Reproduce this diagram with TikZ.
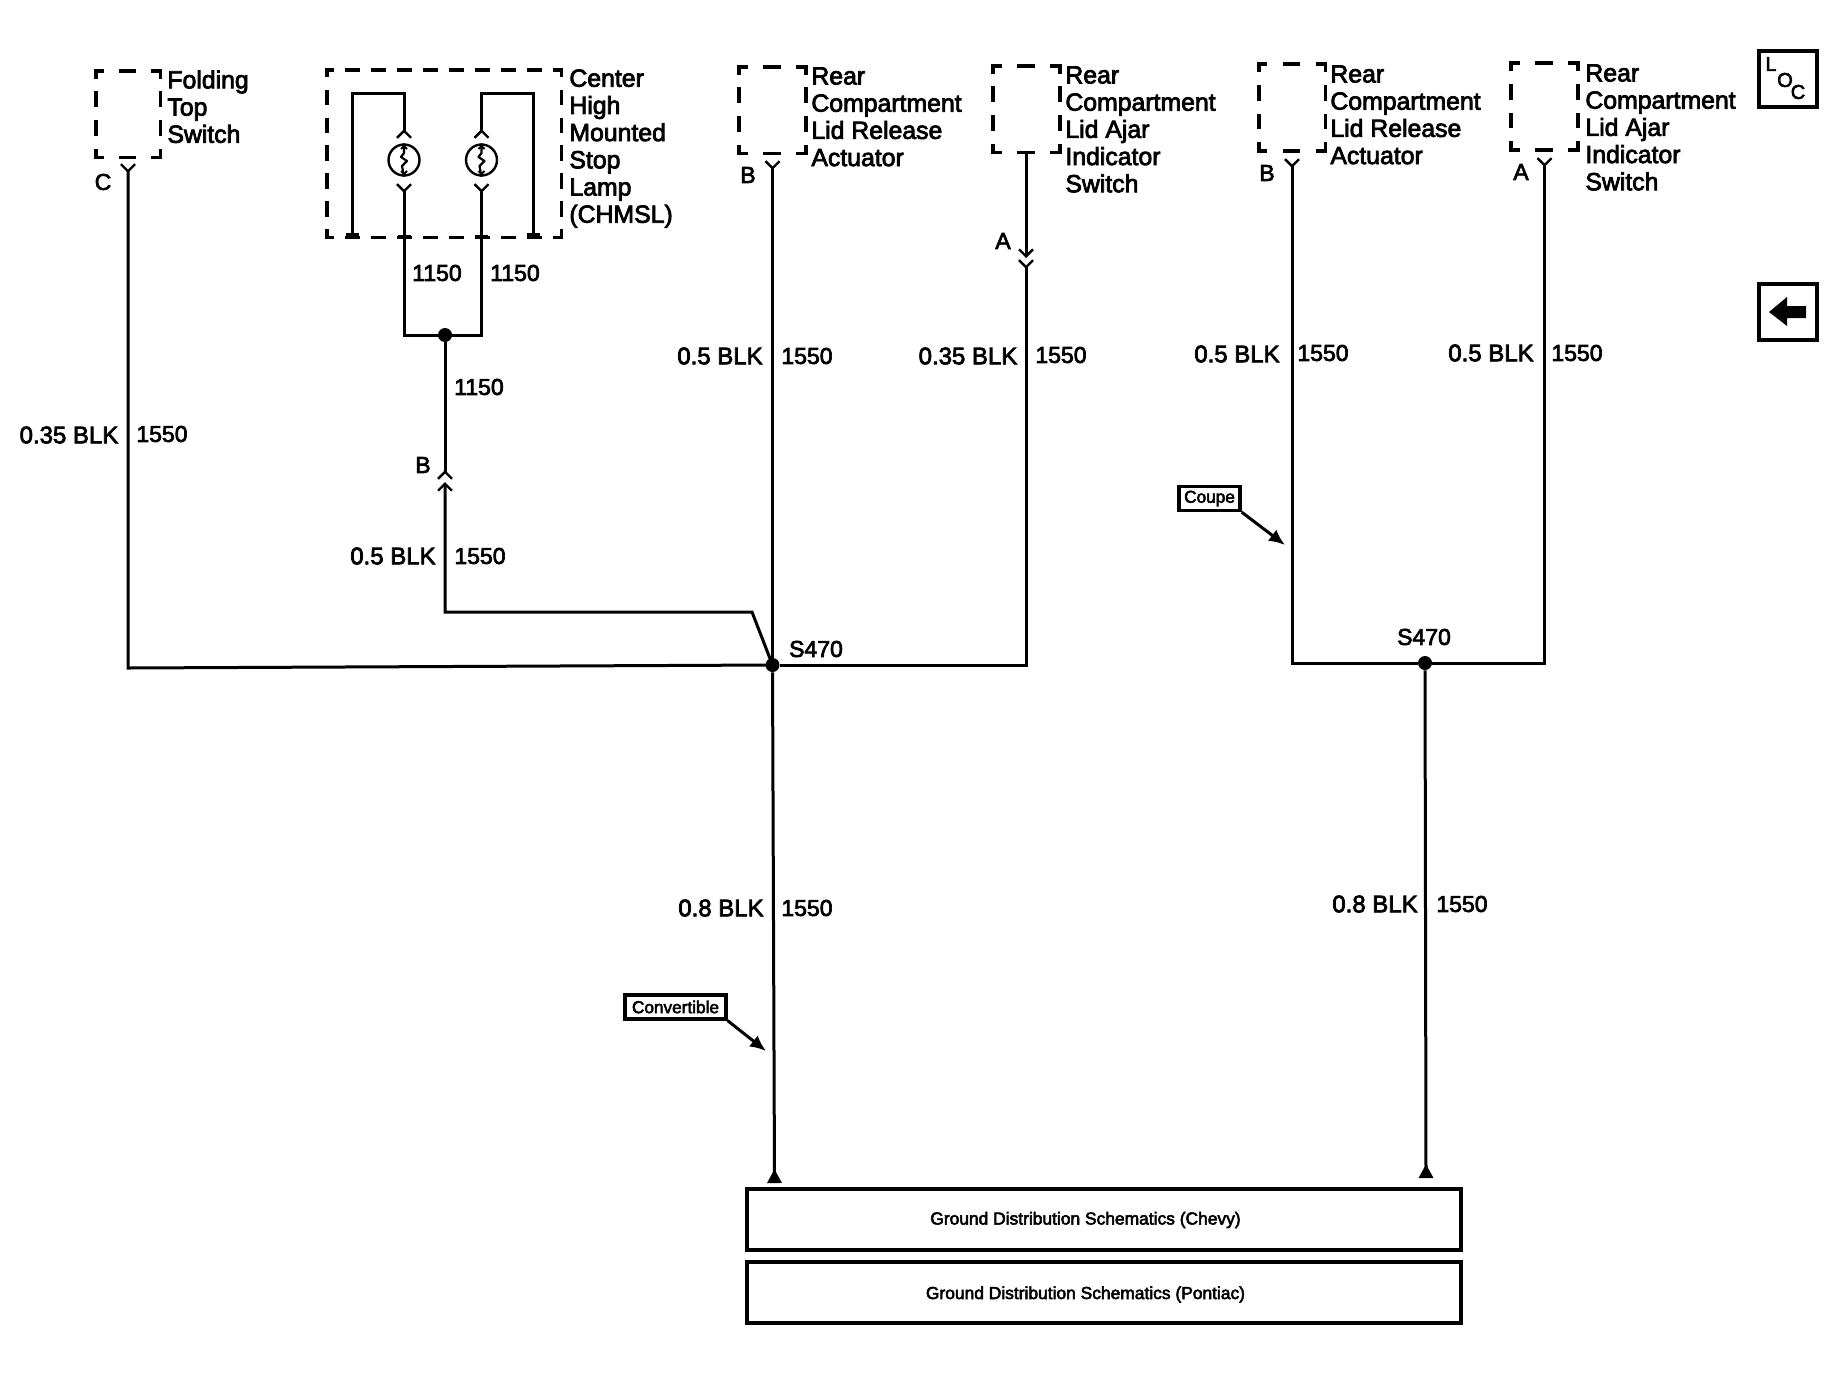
\documentclass[tikz,border=0pt]{standalone}
\usepackage{fontspec}
\setmainfont[FakeBold=3]{Liberation Sans}
\usetikzlibrary{arrows.meta, bending}
\tikzset{
    wire/.style={line width=1.5pt},
    pin/.tip={Straight Barb[reversed, length=3.5pt, width=7pt, line width=1.2pt]},
    barb/.tip={Straight Barb[length=3.5pt, width=7pt, line width=1.2pt]},
    earth/.tip={Triangle[reversed, length=7pt, width=7pt]},
    bar/.tip={Bar[width=6.5pt, line width=1.8pt]},
    part/.style={inner sep=0pt},
    partline/.style={line width=1.9pt, line cap=rect},
    partname/.style={anchor=north west, inner sep=0pt, align=left,
        font=\fontsize{12.4}{13.6}\selectfont},
    wirelabel/.style={inner sep=0pt, font=\fontsize{11.5}{13}\selectfont},
    sizelabel/.style={inner sep=0pt, font=\fontsize{12}{13}\selectfont},
    splice/.style={circle, fill, inner sep=0pt, minimum size=7pt},
    lamp/.style={circle, draw, line width=1.2pt, inner sep=0pt, minimum size=15.5pt},
    tag/.style={draw, line width=1.6pt, inner sep=0pt, minimum height=12pt,
        font=\fontsize{8.6}{10}\selectfont},
    refbox/.style={draw, line width=2pt, inner sep=0pt, minimum width=357pt, minimum height=30.5pt},
    reftext/.style={inner sep=0pt, font=\fontsize{8.7}{10}\selectfont},
    navbox/.style={draw, line width=1.8pt, inner sep=0pt, minimum width=29pt, minimum height=28pt},
    tagarrow/.style={line width=1.5pt, -{Latex[length=8pt, width=7pt]}}
}

\begin{document}
\begin{tikzpicture}[x=0.5pt, y=-0.5pt]
    \useasboundingbox (0,0) rectangle (1834,1392);

    % parts
    \foreach \name/\cx/\cy/\bw/\bh/\nw/\nh in {
            folding/128/114/32/43/2/3,
            chmsl/444/153.5/117/83.5/9/6,
            releaseA/772.5/110/33/43/2/3,
            ajarA/1026.5/109/33/43/2/3,
            releaseB/1292/107.5/33/43/2/3,
            ajarB/1544.5/106.5/33/43/2/3} {
        \node[part, minimum width=\bw pt, minimum height=\bh pt] (\name) at (\cx,\cy) {};
        \pgfmathsetmacro\onw{0.42*\bw/\nw}
        \pgfmathsetmacro\offw{0.58*\bw/\nw}
        \pgfmathsetmacro\phw{\onw/2}
        \pgfmathsetmacro\onh{0.42*\bh/\nh}
        \pgfmathsetmacro\offh{0.58*\bh/\nh}
        \pgfmathsetmacro\phh{\onh/2}
        \draw[partline, dash pattern=on \onw pt off \offw pt, dash phase=\phw pt]
            (\name.north west) -- (\name.north east)
            (\name.south west) -- (\name.south east);
        \draw[partline, dash pattern=on \onh pt off \offh pt, dash phase=\phh pt]
            (\name.north west) -- (\name.south west)
            (\name.north east) -- (\name.south east);
    }

    % part names
    \node[partname] (foldingName) at (167,70) {Folding\\Top\\Switch};
    \node[partname] (chmslName) at (569,69) {Center\\High\\Mounted\\Stop\\Lamp\\(CHMSL)};
    \node[partname] (releaseAName) at (811,67) {Rear\\Compartment\\Lid Release\\Actuator};
    \node[partname] (ajarAName) at (1065,66) {Rear\\Compartment\\Lid Ajar\\Indicator\\Switch};
    \node[partname] (releaseBName) at (1330,65) {Rear\\Compartment\\Lid Release\\Actuator};
    \node[partname] (ajarBName) at (1585,64) {Rear\\Compartment\\Lid Ajar\\Indicator\\Switch};

    % junctions and lamps
    \node[splice] (splice1150) at (445,335) {};
    \node[splice] (spliceA) at (772.5,665) {};
    \node[splice] (spliceB) at (1425,663) {};
    \node[lamp] (lampA) at (404,160) {};
    \node[lamp] (lampB) at (481.5,160) {};

    \foreach \lampname/\x in {lampA/404, lampB/481.5} {
        \draw[line width=1.1pt, line join=round]
            (\lampname.north) -- (\x,153) -- (\x-3,157) -- (\x+3,161) -- (\x-2,166) -- (\lampname.south);
        \draw[line width=.9pt] (\x-3,149) -- (\x,146) -- (\x+3,149)
            (\x-3,171) -- (\x,174) -- (\x+3,171);
    }

    % free wire ends
    \foreach \name/\x/\y in {
            foldingPin/128/163,
            lampATop/404/139, lampABot/404/183, lampBTop/481.5/139, lampBBot/481.5/183,
            returnA/352/237, returnB/533/237,
            connBTop/445/480, connBBot/445/482, bendL/445/612, bendR/752/612,
            releaseAPin/772.5/160,
            ajarAPin/1026/152, connATop/1026/258, connABot/1026/259, ajarACorner/1026/665,
            foldingCorner/128/668,
            releaseBPin/1292/158, releaseBCorner/1292/663,
            ajarBPin/1544.5/157, ajarBCorner/1544.5/663,
            earthA/774.5/1183, earthB/1426/1178} {
        \coordinate (\name) at (\x,\y);
    }

    % lamp feeds
    \draw[wire, bar-pin] (returnA) |- (352,93) -| (lampATop);
    \draw[wire, bar-pin] (returnB) |- (533,93) -| (lampBTop);
    \draw[wire, pin-] (lampABot) |- (splice1150.center);
    \draw[wire, pin-] (lampBBot) |- (splice1150.center);
    \foreach \x in {404, 481.5} {
        \draw[line width=1.9pt] (\x-6.5,237) -- (\x+6.5,237);
    }

    % convertible
    \draw[wire, -pin] (splice1150) -- (connBTop);
    \draw[wire, -barb] (spliceA.center) -- (bendR) -- (bendL) -- (connBBot);
    \draw[wire, pin-] (foldingPin) -- (foldingCorner) -- (spliceA.center);
    \draw[wire, pin-] (releaseAPin) -- (spliceA);
    \draw[wire, -barb] (ajarAPin) -- (connATop);
    \draw[wire, pin-] (connABot) -- (ajarACorner) -- (spliceA);
    \draw[wire, -earth] (spliceA) -- (earthA);

    % coupe
    \draw[wire, pin-] (releaseBPin) -- (releaseBCorner) -- (spliceB);
    \draw[wire, pin-] (ajarBPin) -- (ajarBCorner) -- (spliceB);
    \draw[wire, -earth] (spliceB) -- (earthB);

    % wire labels
    \foreach \name/\x/\y/\txt in {
            pinC/103/182/C, connB/423/465/B, pinBa/748/175/B, connA/1003/241/A,
            pinBb/1267/173/B, pinAb/1521/172/A,
            num1a/437/273/1150, num1b/515/273/1150, num1c/479/387/1150,
            numFold/162/434/1550, numCh/480/556/1550,
            numRelA/807/356/1550, numAjA/1061/355/1550,
            numRelB/1323/353/1550, numAjB/1577/353/1550,
            spliceAName/816/649/S470, spliceBName/1424/637/S470,
            numGndA/807/908/1550, numGndB/1462/904/1550} {
        \node[wirelabel] (\name) at (\x,\y) {\txt};
    }
    \foreach \name/\x/\y/\txt in {
            sizeFold/69/435/0.35 BLK, sizeCh/393/556/0.5 BLK,
            sizeRelA/720/356/0.5 BLK, sizeAjA/968/356/0.35 BLK,
            sizeRelB/1237/354/0.5 BLK, sizeAjB/1491/353/0.5 BLK,
            sizeGndA/721/908/0.8 BLK, sizeGndB/1375/904/0.8 BLK} {
        \node[sizelabel] (\name) at (\x,\y) {\txt};
    }

    % option tags
    \node[tag, minimum width=50.5pt] (convertible) at (675.5,1007) {Convertible};
    \node[tag, minimum width=30.5pt] (coupe) at (1209.5,498.5) {Coupe};
    \coordinate (convertibleTip) at (766,1051);
    \coordinate (coupeTip) at (1285,545);
    \draw[tagarrow] (convertible.south east) -- (convertibleTip);
    \draw[tagarrow] (coupe.south east) -- (coupeTip);

    % schematics references
    \node[refbox, label={[reftext, xshift=-9pt, yshift=-0.5pt]center:Ground Distribution Schematics (Chevy)}] (chevy) at (1103.5,1219) {};
    \node[refbox, label={[reftext, xshift=-9pt, yshift=-1pt]center:Ground Distribution Schematics (Pontiac)}] (pontiac) at (1103.5,1292.5) {};

    % navigation
    \node[navbox] (locBox) at (1788,79) {};
    \node[inner sep=0pt, font=\fontsize{10}{12}\selectfont] (locL) at (1771,64) {L};
    \node[inner sep=0pt, font=\fontsize{10}{12}\selectfont] (locO) at (1785,80) {O};
    \node[inner sep=0pt, font=\fontsize{10}{12}\selectfont] (locC) at (1798,92) {C};
    \node[navbox] (backBox) at (1788,312) {};
    \fill (1769,312) -- (1787,297) -- (1787,306) -- (1806,306) -- (1806,318) -- (1787,318) -- (1787,326) -- cycle;
\end{tikzpicture}
\end{document}
